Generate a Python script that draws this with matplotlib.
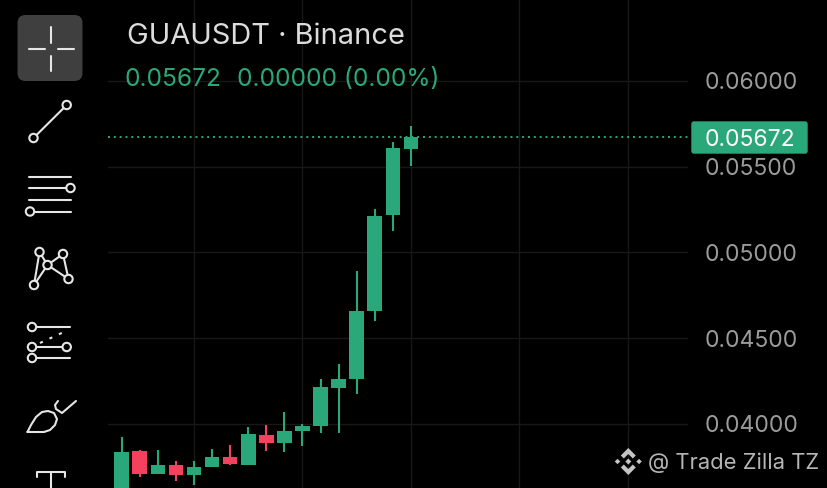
import matplotlib
matplotlib.use("Agg")
import matplotlib.pyplot as plt
from matplotlib.patches import Circle, FancyBboxPatch, Polygon

plt.rcParams['font.family'] = ['Inter', 'DejaVu Sans']

# candles, oldest first (first one has its open below the visible area)
opens = [0.03584, 0.03841, 0.03707, 0.03759, 0.03701, 0.03747, 0.03806, 0.03761, 0.03936,
         0.03889, 0.03957, 0.03988, 0.04207, 0.04259, 0.04656, 0.05216, 0.05604]
closes = [0.03835, 0.03707, 0.03759, 0.03701, 0.03747, 0.03807, 0.03765, 0.03940, 0.03889,
          0.03959, 0.03987, 0.04212, 0.04259, 0.04659, 0.05212, 0.05610, 0.05672]
highs = [0.03921, 0.03847, 0.03845, 0.03782, 0.03782, 0.03854, 0.03876, 0.03982, 0.03991,
         0.04068, 0.03996, 0.04261, 0.04347, 0.04893, 0.05251, 0.05642, 0.05739]
lows = [0.03550, 0.03687, 0.03707, 0.03667, 0.03644, 0.03747, 0.03757, 0.03761, 0.03842,
        0.03833, 0.03870, 0.03947, 0.03947, 0.04172, 0.04599, 0.05123, 0.05503]

price_ticks = [0.04, 0.045, 0.05, 0.055, 0.06]
time_ticks = [4, 10, 16, 22, 28]
last_price = 0.05672

GREEN = '#2ba87a'
RED = '#f5405e'
GRID = '#181818'
W, H = 828, 488

fig = plt.figure(figsize=(8.28, 4.88), dpi=100, facecolor='black')

# chart area runs from x=108 to x=688 and over the full height
ax = fig.add_axes([108 / W, 0, 580 / W, 1], facecolor='black')
ax.set_xlim(-0.758, 31.33)
ax.set_ylim(0.03625, 0.06472)
for s in ax.spines.values():
    s.set_visible(False)
ax.set_xticks([])
ax.set_yticks([])

for t in time_ticks:
    ax.axvline(t, color=GRID, lw=1, zorder=0)
for p in price_ticks:
    ax.axhline(p, color=GRID, lw=1, zorder=0)

for i in range(len(opens)):
    col = GREEN if closes[i] >= opens[i] else RED
    ax.vlines(i, lows[i], highs[i], color=col, lw=1.5, zorder=2)
    ax.bar(i, abs(closes[i] - opens[i]), bottom=min(opens[i], closes[i]), width=0.81, color=col, zorder=3)

ax.axhline(last_price, color=GREEN, lw=1.4, ls=(0, (1, 2)), zorder=1)

# everything outside the chart is placed in pixel coordinates
ov = fig.add_axes([0, 0, 1, 1], facecolor='none')
ov.set_xlim(0, W)
ov.set_ylim(H, 0)
ov.axis('off')


def price_y(p):
    return ax.transData.transform((0, p))[1] * -1 + H


for p in price_ticks:
    ov.text(705, price_y(p), '%.5f' % p, color='#9b9b9b', fontsize=16.5, va='center_baseline', ha='left')

ov.add_patch(FancyBboxPatch((692, 122), 115, 31, boxstyle='round,pad=0,rounding_size=2', fc=GREEN, ec=GREEN, lw=1))
ov.text(705, price_y(last_price), '%.5f' % last_price, color='white', fontsize=16.5, va='center_baseline', ha='left')

ov.text(127, 33, 'GUAUSDT · Binance', color='#dcdcdc', fontsize=20.9, va='center_baseline', ha='left')
ov.text(125, 77, '0.05672', color=GREEN, fontsize=17.7, va='center_baseline', ha='left')
ov.text(237, 77, '0.00000 (0.00%)', color=GREEN, fontsize=17.7, va='center_baseline', ha='left')

# watermark
ov.text(648, 461, '@ Trade Zilla TZ', color='#b5b5b5', fontsize=15.85, va='center_baseline', ha='left')
lx, ly = 628.3, 461.5
logo = [
    [(0, -13.5), (7.5, -6), (4.5, -3), (0, -7.5), (-4.5, -3), (-7.5, -6)],
    [(0, 13.5), (7.5, 6), (4.5, 3), (0, 7.5), (-4.5, 3), (-7.5, 6)],
    [(-13.5, 0), (-10.8, -2.7), (-8, 0), (-10.8, 2.7)],
    [(13.5, 0), (10.8, -2.7), (8, 0), (10.8, 2.7)],
    [(0, -3), (3, 0), (0, 3), (-3, 0)],
]
for shape in logo:
    ov.add_patch(Polygon([(lx + a, ly + b) for a, b in shape], fc='#c4c4c4', ec='none'))

# left toolbar
ICON = '#e6e6e6'


def seg(x, y, lw=1.5, **kw):
    ov.plot(x, y, color=ICON, lw=lw, solid_capstyle='round', clip_on=True, **kw)


def ring(x, y, r=4.2):
    ov.add_patch(Circle((x, y), r, fc='black', ec=ICON, lw=1.5, zorder=5))


ov.add_patch(FancyBboxPatch((17.5, 15), 65, 66, boxstyle='round,pad=0,rounding_size=8', fc='#3f3f3f', ec='none'))
seg([29, 45], [49, 49])
seg([58, 74], [49, 49])
seg([51, 51], [27, 43])
seg([51, 51], [56, 71])

seg([33.5, 66.7], [138, 105])
ring(33.5, 138)
ring(66.7, 105)

seg([29, 71.5], [176.5, 176.5])
seg([29, 68], [188, 188])
seg([29, 71.5], [200, 200])
seg([30, 71.5], [211.5, 211.5])
ring(70.5, 188)
ring(30, 211.5)

seg([39.5, 34, 47.5, 39.5], [252, 285, 265, 252])
seg([47.5, 63, 68.5, 47.5], [265, 254, 279, 265])
for cx, cy in [(39.5, 252), (63, 254), (47.5, 265), (34, 285), (68.5, 279)]:
    ring(cx, cy)

seg([32, 70], [327, 327])
seg([32, 66], [347, 347])
seg([32, 70], [358, 358])
ov.plot([40, 66], [343, 331], color=ICON, lw=1.5, ls=(0, (1.5, 3.5)))
for cx, cy in [(32, 327), (32, 347), (66.7, 347), (32, 358)]:
    ring(cx, cy)

seg([27.5, 31, 36, 42, 48, 54, 57, 55, 50, 44, 27.5], [432, 425, 417, 412, 411, 413, 419, 425, 430, 432, 432])
seg([58, 55, 56, 62, 76], [401, 405, 409, 413, 401])

seg([37.5, 37.5, 65, 65], [477, 472, 472, 477])
seg([51, 51], [472, 488])

fig.savefig('out.png', dpi=100, facecolor='black')
